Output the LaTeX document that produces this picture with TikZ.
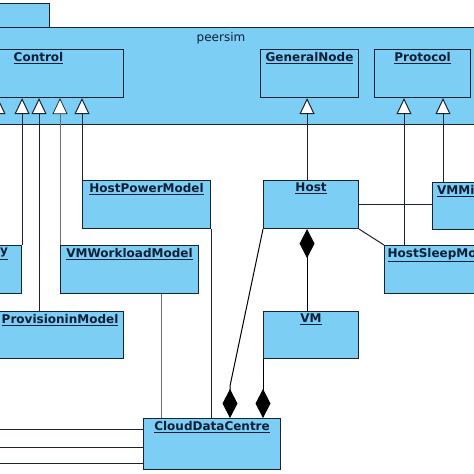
\documentclass[tikz,border=0pt]{standalone}
\usepackage{fontspec}
\setsansfont{DejaVu Sans}
\usetikzlibrary{arrows.meta}

\definecolor{boxblue}{RGB}{124,206,244}
\definecolor{edgec}{RGB}{25,35,50}
\definecolor{namec}{RGB}{15,30,55}
\definecolor{thinc}{RGB}{110,110,110}

\begin{document}
\begin{tikzpicture}[x=1pt,y=-1pt,
    pkg/.style={draw=edgec, fill=boxblue, line width=1.1pt, anchor=north west, inner sep=0pt},
    cls/.style={draw=edgec, fill=boxblue, line width=1.1pt, anchor=north west, minimum height=48pt, inner sep=0pt},
    clsname/.style={font=\sffamily\bfseries\fontsize{12}{14}\selectfont, text=namec, anchor=north, inner sep=0pt, yshift=-3pt},
    gen/.style={draw=edgec, line width=1pt, -{Triangle[open, length=16pt, width=15pt, fill=white, color=edgec]}},
    comp/.style={draw=black, line width=1pt, -{Diamond[length=29pt, width=15pt]}},
    link/.style={draw=edgec, line width=1pt},
    greylink/.style={draw=thinc, line width=0.7pt}]

    \useasboundingbox (0,0) rectangle (474,474);
    \clip (0,0) rectangle (474,474);

    % package peersim
    \node[pkg, minimum width=54pt, minimum height=24pt] (tab) at (-5,3) {};
    \node[pkg, minimum width=485pt, minimum height=97pt] (peersim) at (-5,27) {};
    \node[font=\sffamily\fontsize{12}{14}\selectfont, text=namec, anchor=north] (pname) at (221,29) {peersim};

    \node[cls, minimum width=170pt, label={[clsname]north:\underline{Control}}] (control) at (-47,49) {};
    \node[cls, minimum width=98pt, label={[clsname]north:\underline{GeneralNode}}] (gnode) at (260,49) {};
    \node[cls, minimum width=96pt, label={[clsname]north:\underline{Protocol}}] (protocol) at (374,49) {};

    % classes
    \node[cls, minimum width=128pt, label={[clsname]north:\underline{HostPowerModel}}] (hpm) at (82,180) {};
    \node[cls, minimum width=95pt, label={[clsname]north:\underline{Host}}] (host) at (263,180) {};
    \node[cls, minimum width=110pt, minimum height=47pt] (vmmi) at (432,182) {};
    \node[clsname, anchor=north west] (vmminame) at ([xshift=5pt]vmmi.north west) {\underline{VMMi}};
    \node[cls, minimum width=121pt] (leftbox) at (-100,245) {};
    \node[clsname, anchor=north east] (leftname) at ([xshift=-14pt]leftbox.north east) {\underline{y}};
    \node[cls, minimum width=138pt, label={[clsname]north:\underline{VMWorkloadModel}}] (vmw) at (60,245) {};
    \node[cls, minimum width=116pt, label={[clsname]north:\underline{HostSleepModel}}] (hsm) at (384,245) {};
    \node[cls, minimum width=127pt, minimum height=47pt, label={[clsname]north:\underline{ProvisioninModel}}] (prov) at (-4,311) {};
    \node[cls, minimum width=95pt, minimum height=47pt, label={[clsname]north:\underline{VM}}] (vm) at (263,311) {};
    \node[cls, minimum width=137pt, minimum height=51pt, label={[clsname]north:\underline{CloudDataCentre}}] (cdc) at (143,418) {};

    % generalisations
    \coordinate (offl) at (-2,300);
    \coordinate (p1) at ([xshift=43pt]prov.north west);
    \coordinate (htop) at ([xshift=-4pt]host.north);
    \coordinate (stop) at ([xshift=20pt]hsm.north west);
    \coordinate (mtop) at ([xshift=11pt]vmmi.north west);
    \draw[gen] (offl) -- (offl |- control.south);
    \draw[gen] (leftbox.north east) -- (leftbox.north east |- control.south);
    \draw[gen] (p1) -- (p1 |- control.south);
    \draw[gen, draw=thinc, line width=0.7pt] (vmw.north west) -- (vmw.north west |- control.south);
    \draw[gen] (hpm.north west) -- (hpm.north west |- control.south);
    \draw[gen] (htop) -- (htop |- gnode.south);
    \draw[gen] (stop) -- (stop |- protocol.south);
    \draw[gen] (mtop) -- (mtop |- protocol.south);

    % associations
    \draw[link] (host.east) -- (host.east -| vmmi.west);
    \draw[link] (host.south east) -- (hsm.north west);
    \draw[link] (hpm.south east) -- (hpm.south east |- cdc.north);
    \coordinate (vwb) at ([xshift=101pt]vmw.south west);
    \draw[greylink] (vwb) -- (vwb |- cdc.north);
    \coordinate (w1) at (-5,429);
    \coordinate (w2) at (-5,447);
    \coordinate (w3) at (-5,463);
    \draw[link] (w1) -- (w1 -| cdc.west);
    \draw[link] (w2) -- (w2 -| cdc.west);
    \draw[link] (w3) -- (w3 -| cdc.west);

    % compositions
    \coordinate (vmtop) at ([xshift=-4pt]vm.north);
    \coordinate (bend) at (230,386);
    \draw[comp] (vmtop) -- (vmtop |- host.south);
    \draw[comp] (host.south west) -- (bend) -- (bend |- cdc.north);
    \draw[comp] (vm.south west) -- (vm.south west |- cdc.north);

\end{tikzpicture}
\end{document}
